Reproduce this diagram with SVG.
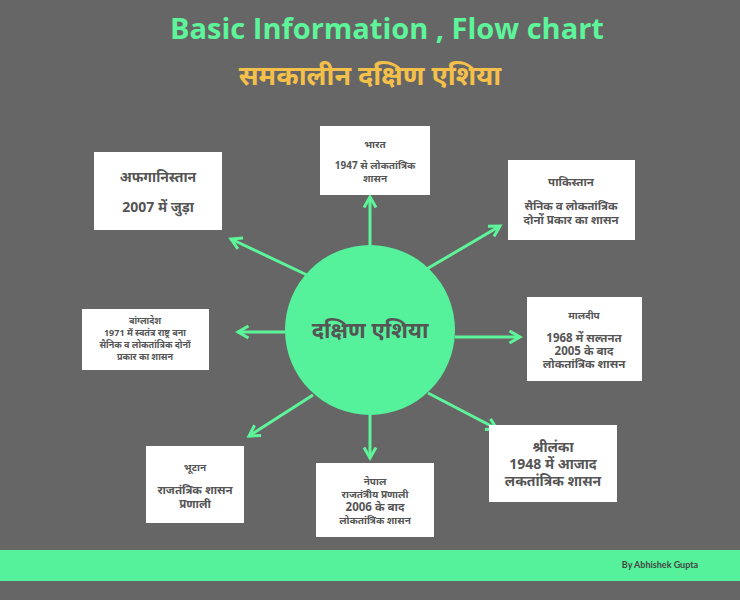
<svg xmlns="http://www.w3.org/2000/svg" width="740" height="600" viewBox="0 0 740 600">
<style>
.box{fill:#fff}
.t{font-family:"Noto Sans","Noto Sans Devanagari","Lato",sans-serif;fill:#555;text-anchor:middle;font-weight:bold}
.s{font-size:10px}
.xs{font-size:9px}
.m{font-size:11.5px}
.l{font-size:14px}
.c{stroke:#5ef59a;stroke-width:3;fill:none;marker-end:url(#a)}
</style>
<defs><marker id="a" viewBox="0 0 10 10" refX="8" refY="5" markerWidth="5" markerHeight="5" orient="auto" markerUnits="strokeWidth"><path d="M1,1 L8,5 L1,9" fill="none" stroke="#5ef59a" stroke-width="2"/></marker></defs>
<rect width="740" height="600" fill="#666"/>
<text x="387" y="39" font-family="'Open Sans',Lato,sans-serif" font-weight="bold" font-size="29" fill="#5ef59a" text-anchor="middle">Basic Information , Flow chart</text>
<text x="370" y="85" font-family="'Noto Sans','Noto Sans Devanagari',sans-serif" font-weight="bold" font-size="27" fill="#f5c04a" text-anchor="middle">समकालीन दक्षिण एशिया</text>
<g id="connectors">
<line class="c" x1="370" y1="247" x2="370" y2="197"/>
<line class="c" x1="307" y1="275" x2="231" y2="239"/>
<line class="c" x1="425" y1="270" x2="500" y2="226"/>
<line class="c" x1="455" y1="337" x2="520" y2="337"/>
<line class="c" x1="285" y1="332" x2="238" y2="332"/>
<line class="c" x1="313" y1="395" x2="249" y2="436"/>
<line class="c" x1="370" y1="415" x2="370" y2="458"/>
<line class="c" x1="428" y1="393" x2="497" y2="429"/>
</g>
<g id="center"><circle cx="370" cy="330" r="85" fill="#55f29b"/><text class="t" x="370" y="338" font-size="22">दक्षिण एशिया</text></g>
<g id="bharat"><rect class="box" x="320" y="126" width="110" height="69"/><text class="t s" x="375" y="148">भारत</text><text class="t s" x="375" y="169">1947 से लोकतांत्रिक</text><text class="t s" x="375" y="182">शासन</text></g>
<g id="afghan"><rect class="box" x="94" y="152" width="128" height="78"/><text class="t l" x="158" y="182">अफगानिस्तान</text><text class="t l" x="158" y="212">2007 में जुड़ा</text></g>
<g id="pak"><rect class="box" x="508" y="160" width="127" height="80"/><text class="t m" x="571" y="186">पाकिस्तान</text><text class="t m" x="571" y="210">सैनिक व लोकतांत्रिक</text><text class="t m" x="571" y="224">दोनों प्रकार का शासन</text></g>
<g id="maldives"><rect class="box" x="527" y="297" width="115" height="84"/><text class="t s" x="584" y="319">मालदीप</text><text class="t m" x="584" y="342">1968 में सल्तनत</text><text class="t m" x="584" y="355">2005 के बाद</text><text class="t m" x="584" y="368">लोकतांत्रिक शासन</text></g>
<g id="bangla"><rect class="box" x="82" y="309" width="127" height="61"/><text class="t xs" x="145" y="324">बांग्लादेश</text><text class="t xs" x="145" y="336">1971 में स्वतंत्र राष्ट्र बना</text><text class="t xs" x="145" y="348">सैनिक व लोकतांत्रिक दोनों</text><text class="t xs" x="145" y="360">प्रकार का शासन</text></g>
<g id="bhutan"><rect class="box" x="146" y="446" width="98" height="77"/><text class="t s" x="195" y="471">भूटान</text><text class="t m" x="195" y="494">राजतंत्रिक शासन</text><text class="t m" x="195" y="508">प्रणाली</text></g>
<g id="nepal"><rect class="box" x="316" y="463" width="118" height="74"/><text class="t s" x="375" y="485">नेपाल</text><text class="t s" x="375" y="498">राजतंत्रीय प्रणाली</text><text class="t m" x="375" y="511">2006 के बाद</text><text class="t s" x="375" y="524">लोकतांत्रिक शासन</text></g>
<g id="srilanka"><rect class="box" x="489" y="425" width="128" height="77"/><text class="t l" x="553" y="452">श्रीलंका</text><text class="t l" x="553" y="469">1948 में आजाद</text><text class="t l" x="553" y="486">लकतांत्रिक शासन</text></g>
<rect x="0" y="550" width="740" height="31" fill="#55f29b"/>
<text x="660" y="568" font-family="Lato,'Noto Sans',sans-serif" font-weight="bold" font-size="9" fill="#444" text-anchor="middle">By Abhishek Gupta</text>
</svg>
